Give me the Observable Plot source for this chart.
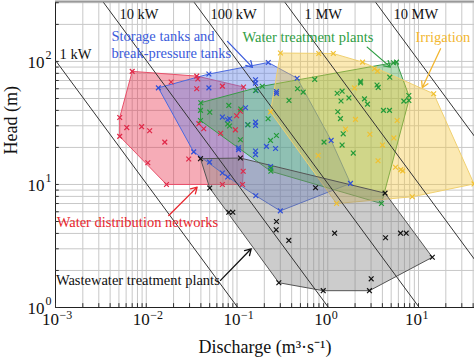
<!DOCTYPE html>
<html>
<head>
<meta charset="utf-8">
<script src="https://cdn.jsdelivr.net/npm/d3@7"></script>
<script src="https://cdn.jsdelivr.net/npm/@observablehq/plot@0.6"></script>
<style>
  html, body { margin: 0; padding: 0; background: #fff; }
</style>
</head>
<body>
<div id="chart"></div>
<script>
// ---- data: [discharge (m3/s), head (m)] ----
const waterDistribution = [[0.0070,83],[0.0188,68],[0.036,76],[0.037,72],[0.036,60],[0.0051,35],[0.0061,29],[0.0051,24.6],[0.0089,29.5],[0.0109,27.3],[0.016,22.1],[0.0104,15],[0.0294,16.1],[0.0167,10],[0.038,31.2],[0.043,28.4],[0.069,63],[0.118,62],[0.109,39.4],[0.099,36.2],[0.096,27.8],[0.066,26.1],[0.117,12.8],[0.069,10],[0.115,10]];
const storageTanks = [[0.0136,61],[0.049,79],[0.049,61],[0.221,98],[0.46,73],[1.09,22.8],[1.78,10.2],[0.30,6.1],[0.161,8.1],[0.0333,18.4],[0.069,35.3],[0.083,34.2],[0.0785,33.6],[0.16,71],[0.16,66.6],[0.162,58],[0.272,57],[0.272,55],[0.124,42],[0.16,32.1],[0.16,30.2],[0.131,30.6],[0.104,19.9],[0.104,19.2],[0.16,18.7],[0.16,17.5],[0.211,20.4],[0.266,19.6],[0.0498,15.2],[0.069,12.4],[0.079,11.5],[0.234,14]];
const waterTreatment = [[0.0399,46.2],[0.0396,40],[0.0396,33.1],[0.0501,38.7],[0.0812,43.9],[0.0827,29.9],[0.079,31],[0.109,23.1],[0.11,41],[0.132,30.6],[0.16,58],[0.19,62.9],[0.22,34.2],[0.234,22.8],[0.272,25],[0.236,13.5],[0.236,12.8],[0.374,48.2],[0.464,60],[0.536,56.3],[0.718,71.4],[1.27,55.1],[1.44,57.3],[1.40,47.7],[1.71,50.5],[2.30,69],[2.30,67],[2.54,49.6],[2.74,45],[3.49,64.4],[3.6,61.5],[4.82,74.5],[5.30,97.6],[5.72,98.7],[4.11,40],[4.79,40],[6.89,47.6],[7.82,48.2],[7.82,52.9],[1.29,39],[1.38,34.3],[1.48,25.8],[0.91,22.1],[1.44,20.9],[1.91,18],[3.91,7.0]];
const irrigation = [[0.301,117],[0.796,116],[1.15,116],[2.42,98.7],[3.27,87.2],[3.53,83.4],[1.97,60.9],[2.02,33.8],[1.57,28.2],[2.91,25.6],[4.01,20.9],[5.35,23.9],[0.785,17.2],[3.58,15.6],[5.58,13.8],[6.38,13.2],[6.7,12.9],[14.7,54.6],[40.9,10.1],[8.53,7.94],[1.25,7.0],[0.234,38.9],[5.82,33.1]];
const wastewater = [[0.0396,16.2],[0.109,16.4],[0.050,9.37],[0.0812,5.95],[0.0899,5.95],[0.272,5.0],[0.270,4.28],[0.372,3.51],[0.733,9.4],[1.19,4.02],[4.33,3.69],[6.34,4.02],[7.32,4.02],[14.2,2.56],[3.01,1.71],[2.88,1.37],[0.891,1.37],[0.289,1.59],[4.28,8.5]];

// power reference lines (W) and labels
const powers = [1e3, 1e4, 1e5, 1e6, 1e7];
const powerLabels = ["1 kW", "10 kW", "100 kW", "1 MW", "10 MW"];
const powerLabelPos = [[0.00111,114],[0.00507,241],[0.051,241],[0.555,241],[5.30,241]];

// axis tick exponents
const xExps = [-3, -2, -1, 0, 1];
const yExps = [0, 1, 2];

// annotations
const annotations = [
  {text: "Storage tanks and\nbreak-pressure tanks", x: 0.00414, y: 138.7, color: "#3b5bdb"},
  {text: "Water treatment plants", x: 0.115, y: 159.7, color: "#2f9e44"},
  {text: "Irrigation", x: 9.27, y: 159.7, color: "#f2b630"},
  {text: "Water distribution networks", x: 0.00103, y: 5.0, color: "#e8262e"},
  {text: "Wastewater treatment plants", x: 0.00101, y: 1.68, color: "#111"}
];
const arrows = [
  {x1: 0.0785, y1: 145.5, x2: 0.148, y2: 89.4, color: "#3b5bdb"},
  {x1: 2.72, y1: 130.7, x2: 4.91, y2: 89.9, color: "#2f9e44"},
  {x1: 17.5, y1: 126.8, x2: 11.0, y2: 61.1, color: "#f2b630"},
  {x1: 0.0177, y1: 5.6, x2: 0.0364, y2: 9.51, color: "#e8262e"},
  {x1: 0.0658, y1: 1.66, x2: 0.1434, y2: 3.0, color: "#111"}
];

const groups = [
  {data: waterDistribution, fill: "#e8304a", stroke: "#e8506a", dot: "#e02848"},
  {data: storageTanks, fill: "#5a7ee8", stroke: "#4a6ae0", dot: "#2f4fd8"},
  {data: waterTreatment, fill: "#4caf50", stroke: "#3a9a48", dot: "#239b38"},
  {data: irrigation, fill: "#f5c842", stroke: "#f0d070", dot: "#f0c030"},
  {data: wastewater, fill: "#808080", stroke: "#555", dot: "#111"}
];

const xMin = 1e-3, xMax = 41.4, yMin = 1, yMax = 307;
const rhoG = 1000 * 9.81;

const xGrid = [];
for (let k = -3; k <= 1; k++) for (let m = 1; m <= 9; m++) { const v = m * 10 ** k; if (v <= xMax) xGrid.push(v); }
const yGrid = [];
for (let k = 0; k <= 2; k++) for (let m = 1; m <= 9; m++) { const v = m * 10 ** k; if (v <= yMax) yGrid.push(v); }

const fx = d => d[0], fy = d => d[1];
const supText = d => d < 0 ? "\u2212" + (-d) : String(d);

const marks = [
  Plot.ruleX(xGrid, {stroke: "#c8c8c8", strokeWidth: 1}),
  Plot.ruleY(yGrid, {stroke: "#c8c8c8", strokeWidth: 1}),
];
for (const g of groups) {
  marks.push(Plot.hull(g.data, {x: fx, y: fy, fill: g.fill, fillOpacity: 0.4, stroke: g.stroke, strokeWidth: 1, clip: true}));
}
marks.push(
  Plot.link(powers, {x1: () => xMin, x2: () => xMax, y1: p => p / (rhoG * xMin), y2: p => p / (rhoG * xMax), stroke: "#333", strokeWidth: 1, clip: true})
);
for (const g of groups) {
  marks.push(Plot.dot(g.data, {x: fx, y: fy, symbol: "times", r: 2.3, stroke: g.dot, strokeWidth: 1.2}));
}
marks.push(
  // axis lines, ticks, top frame
  Plot.ruleX([xMin], {stroke: "#222", strokeWidth: 1}),
  Plot.ruleY([yMin], {stroke: "#222", strokeWidth: 1}),
  Plot.ruleY([yMax], {stroke: "#999", strokeWidth: 2}),
  Plot.ruleX(xGrid, {x: d => d, y1: 1, y2: 1.075, stroke: "#333"}),
  Plot.ruleY(yGrid, {y: d => d, x1: xMin, x2: xMin * 1.1, stroke: "#333"}),
  // tick labels
  Plot.text(xExps, {x: d => 10 ** d, frameAnchor: "bottom", text: () => "10", dx: -5, dy: 17, fontSize: 17, textAnchor: "middle"}),
  Plot.text(xExps, {x: d => 10 ** d, frameAnchor: "bottom", text: supText, dx: 4, dy: 11, fontSize: 12, textAnchor: "start"}),
  Plot.text(yExps, {y: d => 10 ** d, frameAnchor: "left", text: () => "10", dx: -11, dy: 1, fontSize: 17, textAnchor: "end"}),
  Plot.text(yExps, {y: d => 10 ** d, frameAnchor: "left", text: supText, dx: -10, dy: -6, fontSize: 12, textAnchor: "start"}),
  // axis titles
  Plot.text(["Head (m)"], {frameAnchor: "left", text: d => d, rotate: -90, dx: -44, fontSize: 18}),
  Plot.text(["Discharge (m\u00B3\u00B7s\u207B\u00B9)"], {frameAnchor: "bottom", text: d => d, dy: 45, fontSize: 18}),
  // power labels
  Plot.text(powerLabels, {x: (d, i) => powerLabelPos[i][0], y: (d, i) => powerLabelPos[i][1], text: d => d, textAnchor: "start", fontSize: 14.5, fill: "#111"}),
  // annotations
  Plot.arrow(arrows, {x1: "x1", y1: "y1", x2: "x2", y2: "y2", stroke: "color", strokeWidth: 1.3, headLength: 8}),
  Plot.text(annotations, {x: "x", y: "y", text: "text", fill: "color", textAnchor: "start", fontSize: 14.5, lineHeight: 1.2})
);

const chart = Plot.plot({
  width: 474,
  height: 361,
  marginLeft: 55,
  marginRight: 0,
  marginTop: 1,
  marginBottom: 54,
  x: {type: "log", domain: [xMin, xMax], axis: null},
  y: {type: "log", domain: [yMin, yMax], axis: null},
  color: {type: "identity"},
  style: {fontFamily: "'Liberation Serif', 'Times New Roman', serif", background: "#fff", color: "#111"},
  marks
});
document.getElementById("chart").appendChild(chart);
</script>
</body>
</html>
